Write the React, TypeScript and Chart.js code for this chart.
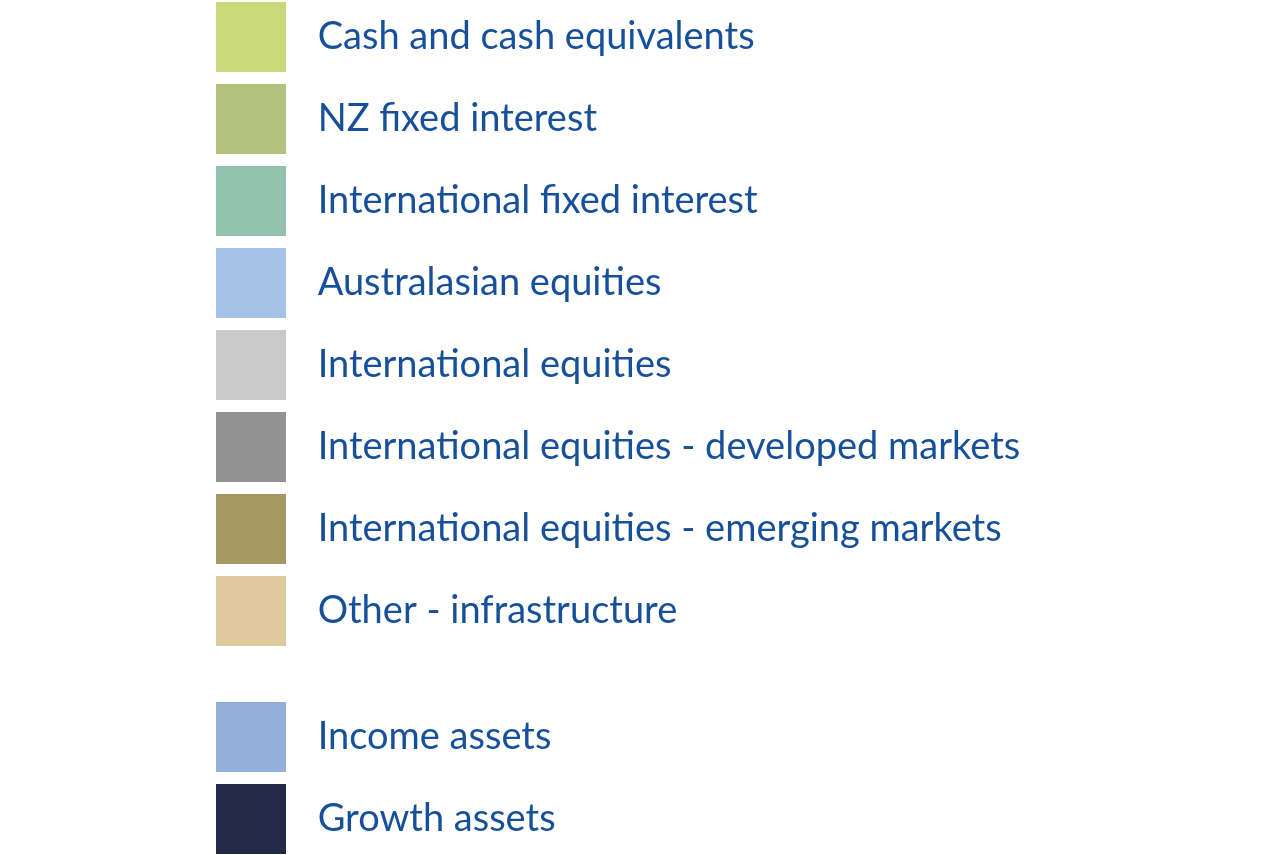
import React, { useEffect, useRef } from 'react';
import Chart from 'chart.js/auto';

// Asset class key (top group)
const assetClassLabels = [
  'Cash and cash equivalents',
  'NZ fixed interest',
  'International fixed interest',
  'Australasian equities',
  'International equities',
  'International equities - developed markets',
  'International equities - emerging markets',
  'Other - infrastructure',
];
const assetClassColors = [
  '#c9d97a',
  '#b3c17e',
  '#92c2ab',
  '#a3c2e5',
  '#c9c9c9',
  '#939293',
  '#a69862',
  '#dfc99f',
];

// Income / growth key (bottom group)
const assetTypeLabels = ['Income assets', 'Growth assets'];
const assetTypeColors = ['#92b0da', '#222a48'];

const textColor = '#17509a';

const App: React.FC = () => {
  const chartRef = useRef<HTMLCanvasElement | null>(null);
  const chartInstance = useRef<Chart | null>(null);

  useEffect(() => {
    if (!chartRef.current) return;
    const ctx = chartRef.current.getContext('2d');
    if (!ctx) return;

    if (chartInstance.current) {
      chartInstance.current.destroy();
    }

    // three-per-em space widens the gap between swatch and text
    const item = (label: string, color: string) => ({
      text: '\u2004' + label,
      fillStyle: color,
      strokeStyle: color,
      lineWidth: 0,
      fontColor: textColor,
      hidden: false,
    });

    // empty entry used as the gap between the two groups
    const spacer = {
      text: [''],
      fillStyle: 'rgba(0,0,0,0)',
      strokeStyle: 'rgba(0,0,0,0)',
      lineWidth: 0,
      fontColor: textColor,
      hidden: false,
    };

    chartInstance.current = new Chart(ctx, {
      type: 'bar',
      data: {
        labels: [],
        datasets: [...assetClassLabels, ...assetTypeLabels].map((label, i) => ({
          label,
          data: [],
          backgroundColor: [...assetClassColors, ...assetTypeColors][i],
        })),
      },
      options: {
        animation: false,
        responsive: true,
        maintainAspectRatio: false,
        layout: { padding: { left: 204, top: 0, right: 0, bottom: 0 } },
        scales: {
          x: { display: false },
          y: { display: false },
        },
        plugins: {
          tooltip: { enabled: false },
          legend: {
            position: 'left',
            align: 'start',
            maxWidth: 1000,
            onClick: () => {},
            labels: {
              boxWidth: 70,
              boxHeight: 70,
              padding: 12,
              color: textColor,
              font: { family: 'Lato', size: 38, lineHeight: '32px' },
              generateLabels: () => [
                ...assetClassLabels.map((l, i) => item(l, assetClassColors[i])),
                spacer,
                ...assetTypeLabels.map((l, i) => item(l, assetTypeColors[i])),
              ],
            },
          },
        },
      },
    });

    return () => {
      if (chartInstance.current) {
        chartInstance.current.destroy();
        chartInstance.current = null;
      }
    };
  }, []);

  return (
    <div style={{ position: 'absolute', left: 0, top: -10, width: 1280, height: 920, background: '#fff' }}>
      <canvas ref={chartRef}></canvas>
    </div>
  );
};

export default App;
